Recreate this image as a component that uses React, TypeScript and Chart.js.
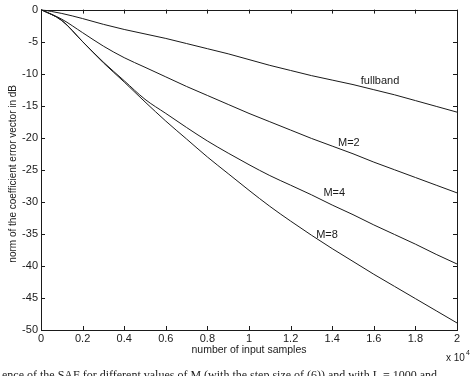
import React, { useEffect, useRef } from "react";
import { Chart, registerables } from "chart.js";

Chart.register(...registerables);

// x values in units of 10^4 input samples
const SAMPLES = [0, 0.1, 0.2, 0.3, 0.4, 0.5, 0.6, 0.7, 0.8, 0.9, 1.0, 1.1, 1.2, 1.3, 1.4, 1.5, 1.6, 1.7, 1.8, 1.9, 2.0];

const FULLBAND = [0, -0.6, -1.4, -2.3, -3.1, -3.8, -4.5, -5.3, -6.1, -6.9, -7.8, -8.7, -9.5, -10.3, -11.0, -11.7, -12.5, -13.3, -14.2, -15.1, -16.0];
const M2 = [0, -1.5, -3.6, -5.7, -7.5, -9.0, -10.5, -12.0, -13.4, -14.8, -16.2, -17.5, -18.8, -20.1, -21.3, -22.5, -23.8, -25.0, -26.2, -27.4, -28.6];
const M4 = [0, -1.7, -5.0, -8.2, -11.1, -14.0, -16.2, -18.4, -20.5, -22.4, -24.2, -25.9, -27.4, -28.9, -30.5, -32.0, -33.6, -35.1, -36.6, -38.2, -39.7];
const M8 = [0, -1.7, -5.0, -8.3, -11.3, -14.4, -17.4, -20.2, -23.0, -25.6, -28.2, -30.7, -33.0, -35.2, -37.3, -39.3, -41.3, -43.2, -45.1, -47.0, -48.9];

const SERIES_NAMES = ["fullband", "M=2", "M=4", "M=8"];
const SERIES_VALUES = [FULLBAND, M2, M4, M8];
// label anchor positions in data coordinates (x, y)
const LABEL_X = [1.63, 1.48, 1.41, 1.375];
const LABEL_Y = [-11.2, -20.8, -28.6, -35.1];

const X_TITLE = "number of input samples";
const Y_TITLE = "norm of the coefficient error vector in dB";
const CAPTION = "ence of the SAF for different values of M (with the step size of (6)) and with L = 1000 and";

const INK = "#1a1a1a";
const FONT = "'Liberation Sans', Arial, Helvetica, sans-serif";

const decorPlugin = {
  id: "matlabDecor",
  afterDraw(chart: any) {
    const ctx = chart.ctx;
    const { left, right, top, bottom } = chart.chartArea;
    const xs = chart.scales.x;
    const ys = chart.scales.y;
    ctx.save();
    ctx.strokeStyle = INK;
    ctx.lineWidth = 1;
    // box
    ctx.strokeRect(Math.round(left) + 0.5, Math.round(top) + 0.5, Math.round(right - left), Math.round(bottom - top));
    // inward ticks
    const tl = 4;
    ctx.beginPath();
    xs.ticks.forEach((t: any) => {
      const px = Math.round(xs.getPixelForValue(t.value)) + 0.5;
      ctx.moveTo(px, bottom);
      ctx.lineTo(px, bottom - tl);
      ctx.moveTo(px, top);
      ctx.lineTo(px, top + tl);
    });
    ys.ticks.forEach((t: any) => {
      const py = Math.round(ys.getPixelForValue(t.value)) + 0.5;
      ctx.moveTo(left, py);
      ctx.lineTo(left + tl, py);
      ctx.moveTo(right, py);
      ctx.lineTo(right - tl, py);
    });
    ctx.stroke();

    ctx.fillStyle = INK;
    // curve labels
    ctx.font = `11px ${FONT}`;
    ctx.textAlign = "center";
    ctx.textBaseline = "middle";
    SERIES_NAMES.forEach((name, i) => {
      ctx.fillText(name, xs.getPixelForValue(LABEL_X[i]), ys.getPixelForValue(LABEL_Y[i]));
    });

    // x title
    ctx.font = `10.5px ${FONT}`;
    ctx.fillText(X_TITLE, (left + right) / 2, 350);
    // exponent
    ctx.textAlign = "left";
    ctx.font = `10px ${FONT}`;
    ctx.fillText("x 10", 446, 358);
    ctx.font = `7px ${FONT}`;
    ctx.fillText("4", 466, 353);

    // y title
    ctx.save();
    ctx.translate(13, (top + bottom) / 2 + 4);
    ctx.rotate(-Math.PI / 2);
    ctx.textAlign = "center";
    ctx.font = `10px ${FONT}`;
    ctx.fillText(Y_TITLE, 0, 0);
    ctx.restore();

    // cut-off caption
    ctx.textAlign = "left";
    ctx.textBaseline = "alphabetic";
    ctx.font = `12px 'Liberation Serif', 'Times New Roman', serif`;
    ctx.fillText(CAPTION, 2, 379);
    ctx.restore();
  },
};

export default function App() {
  const ref = useRef<HTMLCanvasElement | null>(null);

  useEffect(() => {
    if (!ref.current) return;
    const datasets = SERIES_VALUES.map((vals, i) => ({
      label: SERIES_NAMES[i],
      data: SAMPLES.map((x, j) => ({ x, y: vals[j] })),
      borderColor: INK,
      borderWidth: 1,
      pointRadius: 0,
      fill: false,
      cubicInterpolationMode: "monotone" as const,
    }));
    const chart = new Chart(ref.current, {
      type: "line",
      data: { datasets },
      options: {
        animation: false,
        responsive: false,
        layout: { padding: { top: 4, right: 17, bottom: 0, left: 0 } },
        plugins: { legend: { display: false }, tooltip: { enabled: false } },
        scales: {
          x: {
            type: "linear",
            min: 0,
            max: 2,
            ticks: {
              stepSize: 0.2,
              color: INK,
              font: { family: FONT, size: 11 },
              padding: 2,
              maxRotation: 0,
              autoSkip: false,
              callback: (v: any) => String(Number(Number(v).toFixed(1))),
            },
            grid: { display: false, drawTicks: false, tickLength: 0 },
            border: { display: false },
            afterFit: (s: any) => {
              s.height = 46;
            },
          },
          y: {
            type: "linear",
            min: -50,
            max: 0,
            ticks: {
              stepSize: 5,
              color: INK,
              font: { family: FONT, size: 11 },
              padding: 3,
              autoSkip: false,
            },
            grid: { display: false, drawTicks: false, tickLength: 0 },
            border: { display: false },
            afterFit: (s: any) => {
              s.width = 41;
            },
          },
        },
      },
      plugins: [decorPlugin],
    });
    return () => chart.destroy();
  }, []);

  return (
    <div style={{ position: "fixed", left: 0, top: 0, width: 474, height: 376, background: "#fff", overflow: "hidden" }}>
      <canvas ref={ref} width={474} height={376} style={{ display: "block" }} />
    </div>
  );
}
